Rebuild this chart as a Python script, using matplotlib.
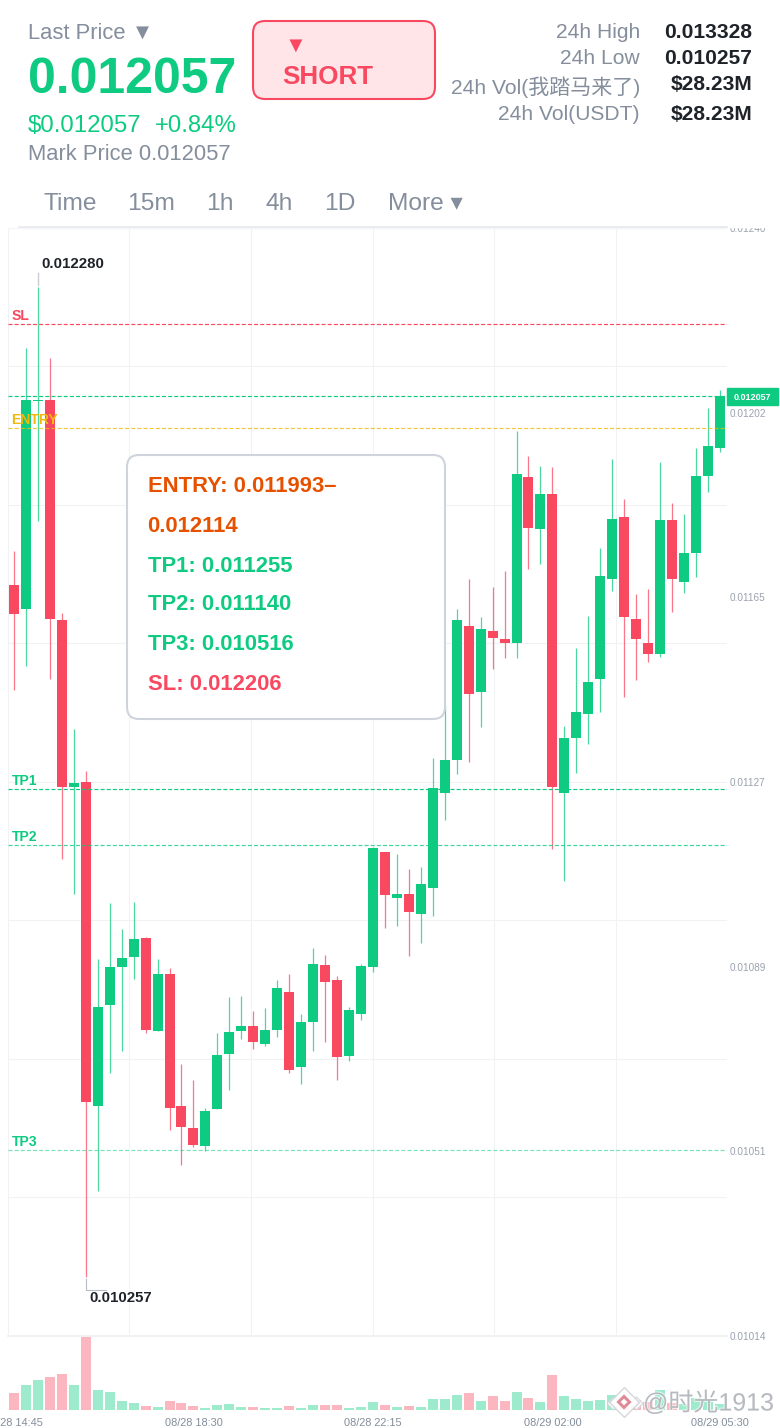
import numpy as np
import matplotlib
matplotlib.use("Agg")
import matplotlib.pyplot as plt
import matplotlib.patheffects as pe
from matplotlib.patches import FancyBboxPatch, Rectangle

plt.rcParams['font.family'] = ['Liberation Sans', 'Noto Sans CJK SC', 'DejaVu Sans']

W, H = 780, 1428
GREEN = '#0ECB81'
RED = '#F84960'
GRAY = '#848E9C'
DARK = '#1E2329'
PX = 0.72  # 1 pixel in points at dpi 100

# ======= data =======
opens = [0.011671, 0.011622, 0.012048, 0.012050, 0.011600, 0.011259, 0.011269, 0.010605, 0.010812, 0.010891,
         0.010910, 0.010950, 0.010760, 0.010876, 0.010607, 0.010562, 0.010524, 0.010600, 0.010712, 0.010760,
         0.010769, 0.010732, 0.010762, 0.010839, 0.010686, 0.010778, 0.010895, 0.010863, 0.010708, 0.010795,
         0.010890, 0.011125, 0.011031, 0.011039, 0.010999, 0.011052, 0.011246, 0.011313, 0.011587, 0.011453,
         0.011578, 0.011561, 0.011552, 0.011893, 0.011785, 0.011857, 0.011246, 0.011359, 0.011408, 0.011479,
         0.011684, 0.011811, 0.011601, 0.011552, 0.011530, 0.011804, 0.011677, 0.011736, 0.011895, 0.011952]
closes = [0.011612, 0.012050, 0.012050, 0.011601, 0.011259, 0.011267, 0.010615, 0.010809, 0.010890, 0.010909,
          0.010947, 0.010761, 0.010876, 0.010602, 0.010564, 0.010527, 0.010595, 0.010710, 0.010757, 0.010769,
          0.010737, 0.010761, 0.010847, 0.010679, 0.010777, 0.010897, 0.010860, 0.010707, 0.010802, 0.010892,
          0.011133, 0.011037, 0.011040, 0.011003, 0.011060, 0.011256, 0.011314, 0.011599, 0.011449, 0.011581,
          0.011563, 0.011552, 0.011899, 0.011788, 0.011857, 0.011258, 0.011359, 0.011411, 0.011474, 0.011690,
          0.011806, 0.011606, 0.011562, 0.011530, 0.011804, 0.011684, 0.011736, 0.011894, 0.011956, 0.012057]
highs = [0.011741, 0.012156, 0.012280, 0.012136, 0.011614, 0.011376, 0.011291, 0.010907, 0.011021, 0.010968,
         0.011024, 0.010952, 0.010907, 0.010888, 0.010692, 0.010659, 0.010601, 0.010755, 0.010828, 0.010830,
         0.010800, 0.010807, 0.010863, 0.010876, 0.010794, 0.010929, 0.010914, 0.010871, 0.010809, 0.010896,
         0.011135, 0.011125, 0.011121, 0.011091, 0.011094, 0.011317, 0.011426, 0.011623, 0.011684, 0.011606,
         0.011667, 0.011700, 0.011987, 0.011936, 0.011915, 0.011912, 0.011383, 0.011543, 0.011608, 0.011747,
         0.011930, 0.011847, 0.011653, 0.011663, 0.011923, 0.011839, 0.011816, 0.011951, 0.012034, 0.012070]
lows = [0.011457, 0.011506, 0.011803, 0.011479, 0.011111, 0.011040, 0.010257, 0.010432, 0.010673, 0.010719,
        0.010866, 0.010756, 0.010760, 0.010556, 0.010486, 0.010523, 0.010513, 0.010600, 0.010639, 0.010744,
        0.010723, 0.010729, 0.010748, 0.010673, 0.010651, 0.010719, 0.010737, 0.010659, 0.010697, 0.010782,
        0.010881, 0.010971, 0.010975, 0.010913, 0.010939, 0.010995, 0.011191, 0.011285, 0.011310, 0.011382,
        0.011500, 0.011523, 0.011523, 0.011704, 0.011715, 0.011132, 0.011066, 0.011288, 0.011346, 0.011412,
        0.011660, 0.011443, 0.011477, 0.011513, 0.011525, 0.011617, 0.011656, 0.011688, 0.011861, 0.011944]
volumes = [17, 24.7, 30, 33, 36.3, 24.7, 74, 20, 17.7, 8.7,
           6.7, 4.3, 2.7, 9, 7, 4, 2.3, 4.7, 5.7, 3.3,
           3, 2, 2, 4.3, 2, 5, 4.7, 5, 1.7, 3.3,
           8.3, 4.7, 3.3, 4, 3, 10.7, 11, 14.7, 16.7, 8.7,
           14, 9.3, 18, 12, 7.7, 35.3, 14.3, 11, 9.3, 10.3,
           14.7, 11.7, 10, 8, 20, 7.3, 6, 11.7, 10, 5.7]

price_top, price_bottom = 0.0124016, 0.0101356
price_tick_labels = ['0.01240', '0.01202', '0.01165', '0.01127', '0.01089', '0.01051', '0.01014']
time_ticks = [0, 15, 30, 45, 59]
time_labels = ['08/28 14:45', '08/28 18:30', '08/28 22:15', '08/29 02:00', '08/29 05:30']
grid_times = [-0.5, 9.63, 19.83, 29.97, 40.1, 50.3]

last_price = 0.012057
sl_price = 0.012206
entry_price = 0.011993
tp_prices = [0.011255, 0.011140, 0.010516]
tp_alpha = [1.0, 0.8, 0.55]

stats_labels = ['24h High', '24h Low', '24h Vol(我踏马来了)', '24h Vol(USDT)']
stats_values = ['0.013328', '0.010257', '$28.23M', '$28.23M']
tabs = ['Time', '15m', '1h', '4h', '1D', 'More ▾']

# ======= axes =======
def px_axes(x0, y0, x1, y1, **kw):
    return fig.add_axes([x0 / W, 1 - y1 / H, (x1 - x0) / W, (y1 - y0) / H], **kw)

fig = plt.figure(figsize=(W / 100, H / 100), dpi=100, facecolor='white')
ax = px_axes(8, 228, 727, 1336)
ax_vol = px_axes(8, 1336, 727, 1410)
ov = fig.add_axes([0, 0, 1, 1], zorder=5)  # header, tooltip, labels in pixel coords
ov.set_xlim(0, W)
ov.set_ylim(H, 0)
ov.axis('off')

xlim = (-0.5, 59.59)
idx = np.arange(len(opens))
up = np.array(closes) >= np.array(opens)
colors = [GREEN if u else RED for u in up]

# ======= candles =======
ax.set_xlim(*xlim)
ax.set_ylim(price_bottom, price_top)
for s in ax.spines.values():
    s.set_visible(False)
ax.set_facecolor('none')
for p in np.linspace(price_bottom, price_top, 9):
    ax.axhline(p, color='#F1F2F4', lw=0.8, zorder=0)
for t in grid_times:
    ax.axvline(t, color='#F1F2F4', lw=0.8, zorder=0)

ax.vlines(idx, lows, highs, colors=colors, lw=0.9, alpha=0.75, zorder=2)
body_low = np.minimum(opens, closes)
body_h = np.abs(np.array(closes) - np.array(opens))
ax.bar(idx, body_h, 0.836, bottom=body_low, color=colors, zorder=3)

dash = (0, (3.4, 1.8))
ax.axhline(sl_price, color=RED, lw=0.85, ls=dash, zorder=4)
ax.axhline(last_price, color=GREEN, lw=0.85, ls=dash, zorder=4)
ax.axhline(entry_price, color='#F0B90B', lw=0.85, ls=dash, alpha=0.8, zorder=4)
for p, a in zip(tp_prices, tp_alpha):
    ax.axhline(p, color=GREEN, lw=0.85, ls=dash, alpha=a, zorder=4)

ax.yaxis.tick_right()
ax.set_yticks(np.linspace(price_top, price_bottom, 7), price_tick_labels)
ax.tick_params(axis='y', length=0, pad=1.8, labelsize=10 * PX, labelcolor='#9AA1AD')
ax.set_xticks([])

# ======= volume =======
ax_vol.set_xlim(*xlim)
ax_vol.set_ylim(0, max(volumes))
ax_vol.set_facecolor('none')
for s in ax_vol.spines.values():
    s.set_visible(False)
ax_vol.bar(idx, volumes, 0.836, color=colors, alpha=0.4)
ax_vol.set_yticks([])
ax_vol.set_xticks(time_ticks, time_labels)
ax_vol.tick_params(axis='x', length=0, pad=5.5, labelsize=11 * PX, labelcolor=GRAY)
ov.plot([8, 727], [1336, 1336], color='#F0F1F3', lw=1.4)

# ======= header =======
ov.add_patch(Rectangle((0, 0), W, 227, color='white', zorder=1))
ov.plot([19, 727], [227, 227], color='#EAECEF', lw=1.4, zorder=2)

def label(x, y, s, size, color, weight='normal', ha='left', va='center', **kw):
    ov.text(x, y, s, fontsize=size * PX, color=color, fontweight=weight, ha=ha, va=va, zorder=6, **kw)

label(28, 33, 'Last Price ▼', 22, GRAY)
label(28, 80, '0.012057', 50, GREEN, 'bold')
label(28, 126, '$0.012057', 24, GREEN)
label(155, 126, '+0.84%', 24, GREEN)
label(28, 155, 'Mark Price 0.012057', 22, GRAY)

ov.add_patch(FancyBboxPatch((253, 21), 182, 78, boxstyle='round,pad=0,rounding_size=12',
                            fc='#FFE4E8', ec=RED, lw=1.5, zorder=2))
label(285, 46, '▼', 22, RED)
label(282.5, 77, 'SHORT', 26, RED, 'bold')

for y, s in zip([33, 59, 94.5, 115], stats_labels):
    label(640, y, s, 21, GRAY, ha='right', va='baseline' if y == 94.5 else 'center')
for y, s in zip([33, 59, 85, 115], stats_values):
    label(752, y, s, 21, DARK, 'bold', ha='right')

for x, s in zip([44, 127.5, 206.5, 265.5, 324.5, 387.5], tabs):
    label(x, 204, s, 24.5, GRAY)

# ======= line labels =======
label(12, 316, 'SL', 14, RED, 'bold')
label(11.5, 420, 'ENTRY', 14, '#F0B90B', 'bold')
label(12, 781, 'TP1', 14, GREEN, 'bold')
label(12, 837, 'TP2', 14, GREEN, 'bold')
label(12, 1142, 'TP3', 14, GREEN, 'bold')

ov.add_patch(Rectangle((727, 388), 51, 17, color=GREEN, zorder=5))
label(752.5, 397, '0.012057', 9, 'white', 'bold', ha='center')

# high / low callouts
label(41.5, 264.5, '0.012280', 15, DARK, 'bold')
ov.plot([38, 38], [273, 285], color='#C8CCD3', lw=1.0)
label(89.5, 1298.5, '0.010257', 15, DARK, 'bold')
ov.plot([86, 86, 106], [1279, 1290, 1290], color='#B5BAC3', lw=0.8)

# ======= tooltip =======
ov.add_patch(FancyBboxPatch((127, 455), 318, 264, boxstyle='round,pad=0,rounding_size=12',
                            fc='white', ec='#CFD4DC', lw=1.5, zorder=4))
tip_lines = [(486, 'ENTRY: 0.011993–', '#E65100'), (526, '0.012114', '#E65100'),
             (567, 'TP1: 0.011255', GREEN), (605, 'TP2: 0.011140', GREEN),
             (644, 'TP3: 0.010516', GREEN), (685, 'SL: 0.012206', RED)]
for y, s, c in tip_lines:
    label(147.5, y, s, 22, c, 'bold')

# ======= watermark =======
ov.scatter([613, 636], [1403, 1403], marker='D', s=45, fc='white', ec='#D0D3D8', lw=0.8, alpha=0.9, zorder=7)
ov.scatter([624], [1402], marker='D', s=230, fc='white', ec='#D0D3D8', lw=1.0, alpha=0.9, zorder=7)
ov.scatter([624], [1402], marker='D', s=60, fc='#E08A98', ec='none', zorder=8)
ov.scatter([624], [1402], marker='D', s=12, fc='white', ec='none', zorder=8)
ov.text(643, 1403, '@时光1913', fontsize=25 * PX, color='#A6AAB1', alpha=0.75, va='center', zorder=8,
        path_effects=[pe.withStroke(linewidth=1.5, foreground='white', alpha=0.7)])

fig.savefig('out.png', dpi=100)
